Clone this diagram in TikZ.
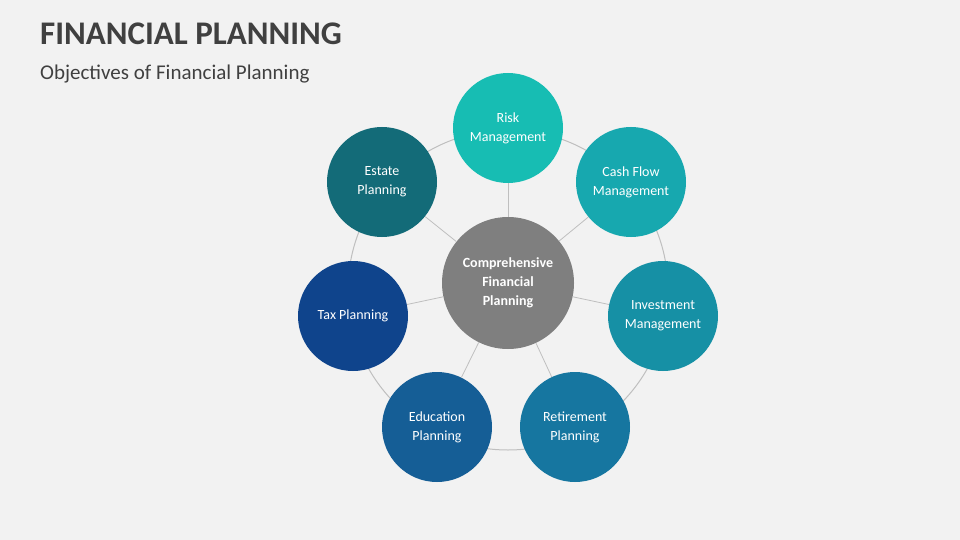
\documentclass[tikz,border=0pt]{standalone}
\usepackage{fontspec}
\setmainfont{Carlito}
\usetikzlibrary{positioning}
\definecolor{bgcol}{HTML}{F2F2F2}
\definecolor{titlecol}{HTML}{404040}
\definecolor{linecol}{HTML}{BFBFBF}
\definecolor{riskcol}{HTML}{17BDB3}
\definecolor{cashcol}{HTML}{17A8AF}
\definecolor{invcol}{HTML}{1690A5}
\definecolor{retcol}{HTML}{1676A0}
\definecolor{educol}{HTML}{155E96}
\definecolor{taxcol}{HTML}{0F448C}
\definecolor{estcol}{HTML}{136B78}
\definecolor{hubcol}{HTML}{7F7F7F}

\begin{document}
\begin{tikzpicture}[x=1pt,y=-1pt,
    goal/.style={circle, minimum size=110pt, inner sep=0pt, text=white,
        align=center, font=\fontsize{14}{19}\selectfont},
    spoke/.style={draw=linecol, line width=0.8pt}]
    % Background
    \fill[bgcol] (0,0) rectangle (960,540);
    \useasboundingbox (0,0) rectangle (960,540);
    % Title
    \node[anchor=base west, text=titlecol, font=\fontsize{33}{36}\bfseries\selectfont, inner sep=0pt] (title) at (40,45) {FINANCIAL PLANNING};
    \node[anchor=base west, text=titlecol, font=\fontsize{21}{24}\selectfont, inner sep=0pt] (subtitle) at (40,80) {Objectives of Financial Planning};
    % Outer ring
    \draw[draw=linecol, line width=1pt] (508,290) circle (160);
    % Hub
    \node[goal, fill=hubcol, minimum size=132pt, font=\fontsize{14}{19}\bfseries\selectfont] (hub) at (508,283) {Comprehensive\\Financial\\Planning};
    % Objectives
    \node[goal, fill=riskcol] (risk) at (508,128) {Risk\\Management};
    \node[goal, fill=cashcol] (cash) at (631,182) {Cash Flow\\Management};
    \node[goal, fill=invcol] (inv) at (663,316) {Investment\\Management};
    \node[goal, fill=retcol] (ret) at (575,427) {Retirement\\Planning};
    \node[goal, fill=educol] (edu) at (437,427) {Education\\Planning};
    \node[goal, fill=taxcol] (tax) at (353,316) {Tax Planning};
    \node[goal, fill=estcol] (est) at (382,182) {Estate\\Planning};
    % Spokes
    \begin{scope}[on background layer/.style={}]
    \foreach \n in {risk,cash,inv,ret,edu,tax,est}
        \draw[spoke] (hub) -- (\n);
    \end{scope}
\end{tikzpicture}
\end{document}
